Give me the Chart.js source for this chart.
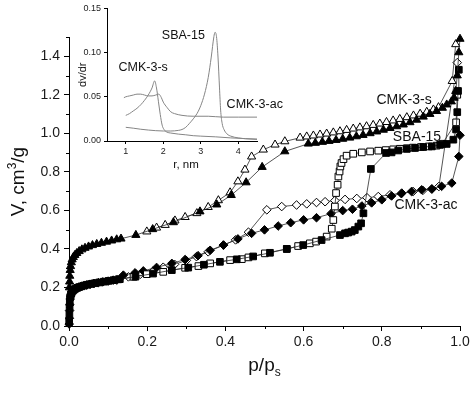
<!DOCTYPE html>
<html><head><meta charset="utf-8">
<script src="https://cdn.jsdelivr.net/npm/chart.js@4.4.0/dist/chart.umd.min.js"></script>
<style>
html,body{margin:0;padding:0;background:#fff;}
#wrap{position:relative;width:474px;height:394px;overflow:hidden;}
#main{position:absolute;left:0;top:0;}
#inset{position:absolute;left:60px;top:0;}
</style></head><body>
<div id="wrap"><canvas id="main" width="474" height="394"></canvas><canvas id="inset" width="240" height="180"></canvas></div>
<script>
// ---------- main isotherm data (p/ps, V cm3/g) ----------
const cmk3sAdsP = [0.001,0.0015,0.002,0.003,0.004,0.006,0.008,0.011,0.015,0.020,0.026,0.033,0.041,0.050,0.060,0.071,0.083,0.096,0.109,0.122,0.133,0.171,0.214,0.267,0.335,0.378,0.415,0.453,0.494,0.552,0.612,0.630,0.648,0.665,0.683,0.700,0.718,0.735,0.752,0.770,0.787,0.804,0.821,0.838,0.855,0.872,0.889,0.906,0.923,0.940,0.955,0.966,0.978,0.985,0.989,0.993,0.997,1.0];
const cmk3sAdsV = [0.20,0.23,0.26,0.29,0.31,0.33,0.345,0.357,0.368,0.378,0.388,0.397,0.405,0.412,0.419,0.425,0.431,0.437,0.443,0.449,0.453,0.472,0.502,0.538,0.594,0.630,0.679,0.745,0.825,0.906,0.946,0.950,0.955,0.960,0.965,0.971,0.977,0.984,0.991,1.000,1.009,1.018,1.027,1.036,1.045,1.057,1.070,1.086,1.100,1.115,1.132,1.149,1.165,1.184,1.219,1.30,1.42,1.49];
const cmk3sDesP = [0.199,0.224,0.246,0.271,0.297,0.327,0.356,0.382,0.412,0.432,0.450,0.467,0.497,0.527,0.552,0.591,0.608,0.625,0.642,0.659,0.676,0.693,0.710,0.727,0.744,0.761,0.778,0.795,0.812,0.829,0.846,0.864,0.881,0.898,0.915,0.932,0.945,0.980,0.989];
const cmk3sDesV = [0.490,0.510,0.524,0.547,0.565,0.585,0.617,0.652,0.693,0.750,0.811,0.879,0.915,0.941,0.958,0.977,0.983,0.988,0.993,0.998,1.004,1.010,1.017,1.024,1.030,1.036,1.043,1.050,1.058,1.066,1.074,1.083,1.092,1.101,1.111,1.123,1.135,1.271,1.462];

const sbaAdsP = [0.0005,0.001,0.0015,0.002,0.003,0.005,0.007,0.010,0.013,0.017,0.021,0.026,0.032,0.039,0.047,0.056,0.066,0.077,0.089,0.101,0.114,0.130,0.170,0.215,0.263,0.305,0.345,0.386,0.429,0.471,0.514,0.557,0.599,0.646,0.693,0.706,0.714,0.723,0.731,0.740,0.747,0.753,0.772,0.811,0.825,0.842,0.864,0.885,0.906,0.928,0.949,0.966,0.983,0.990,0.993,0.995,0.997];
const sbaAdsV = [0.02,0.06,0.10,0.13,0.15,0.165,0.175,0.183,0.189,0.194,0.198,0.202,0.206,0.210,0.214,0.218,0.222,0.226,0.230,0.234,0.238,0.243,0.256,0.272,0.290,0.303,0.318,0.333,0.346,0.361,0.380,0.400,0.420,0.446,0.472,0.481,0.485,0.490,0.498,0.516,0.533,0.585,0.815,0.898,0.901,0.911,0.919,0.924,0.929,0.932,0.940,0.945,0.967,1.02,1.11,1.22,1.33];
const sbaDesP = [0.126,0.165,0.199,0.241,0.297,0.331,0.361,0.412,0.442,0.459,0.501,0.557,0.586,0.616,0.632,0.659,0.672,0.676,0.680,0.683,0.687,0.689,0.692,0.694,0.697,0.702,0.710,0.727,0.749,0.770,0.791,0.810,0.829,0.846,0.864,0.880,0.900,0.920,0.940,0.955,0.990,0.993];
const sbaDesV = [0.242,0.255,0.269,0.281,0.302,0.311,0.325,0.342,0.347,0.356,0.377,0.400,0.415,0.429,0.438,0.464,0.505,0.550,0.620,0.690,0.733,0.776,0.802,0.828,0.846,0.866,0.884,0.894,0.901,0.906,0.910,0.913,0.917,0.920,0.923,0.926,0.929,0.932,0.936,0.946,1.057,1.20];

const cmk3acAdsP = [0.0005,0.001,0.0015,0.002,0.003,0.004,0.006,0.008,0.011,0.015,0.019,0.024,0.030,0.037,0.045,0.054,0.064,0.075,0.087,0.100,0.113,0.139,0.169,0.190,0.224,0.263,0.297,0.330,0.361,0.395,0.432,0.467,0.500,0.535,0.567,0.600,0.633,0.670,0.700,0.725,0.749,0.774,0.800,0.825,0.850,0.876,0.902,0.928,0.953,0.979,0.997,1.000];
const cmk3acAdsV = [0.01,0.04,0.08,0.11,0.14,0.155,0.168,0.177,0.185,0.191,0.196,0.200,0.205,0.209,0.213,0.217,0.221,0.225,0.229,0.233,0.238,0.264,0.276,0.286,0.304,0.325,0.345,0.365,0.393,0.420,0.452,0.481,0.499,0.519,0.536,0.551,0.562,0.583,0.599,0.606,0.623,0.639,0.655,0.675,0.687,0.698,0.707,0.712,0.725,0.742,0.880,0.99];
const cmk3acDesP = [0.122,0.152,0.182,0.215,0.241,0.270,0.300,0.326,0.356,0.395,0.426,0.459,0.506,0.544,0.582,0.608,0.633,0.655,0.680,0.706,0.736,0.762,0.791,0.821,0.851,0.880,0.905,0.928,0.946,0.993];
const cmk3acDesV = [0.238,0.255,0.268,0.285,0.305,0.320,0.340,0.360,0.385,0.420,0.447,0.487,0.603,0.620,0.628,0.634,0.641,0.645,0.651,0.657,0.662,0.666,0.672,0.681,0.690,0.698,0.704,0.710,0.724,1.367];

const xTicks = [0,0.2,0.4,0.6,0.8,1.0];
const xMinor = [0.1,0.3,0.5,0.7,0.9];
const yTicks = [0,0.2,0.4,0.6,0.8,1.0,1.2,1.4];
const yMinor = [0.1,0.3,0.5,0.7,0.9,1.1,1.3,1.5];

// main-plot curve labels (position in data units)
const mainLabels = [
  {text:'CMK-3-s', x:0.857, y:1.170},
  {text:'SBA-15', x:0.890, y:0.978},
  {text:'CMK-3-ac', x:0.913, y:0.629}
];

// ---------- inset pore size distribution (r nm, dv/dr) ----------
const sbaPsdR = [1.0,1.2,1.4,1.6,1.8,2.0,2.2,2.4,2.5,2.6,2.7,2.8,2.9,3.0,3.1,3.2,3.28,3.35,3.38,3.42,3.46,3.5,3.53,3.57,3.62,3.7,3.8,4.0,4.2,4.5];
const sbaPsdV = [0.0155,0.0145,0.0133,0.0124,0.0117,0.0113,0.0113,0.012,0.013,0.0155,0.02,0.025,0.031,0.04,0.053,0.072,0.095,0.118,0.123,0.118,0.095,0.06,0.035,0.02,0.013,0.008,0.0055,0.0035,0.0025,0.0018];
const cmk3sPsdR = [1.0,1.1,1.2,1.3,1.4,1.5,1.6,1.7,1.77,1.82,1.87,1.92,1.97,2.02,2.1,2.2,2.4,2.6,2.8,3.0,3.4,3.8,4.2,4.5];
const cmk3sPsdV = [0.029,0.031,0.034,0.037,0.041,0.046,0.052,0.060,0.068,0.060,0.045,0.030,0.018,0.013,0.010,0.009,0.0078,0.007,0.006,0.0055,0.0047,0.0035,0.0027,0.0022];
const cmk3acPsdR = [0.95,1.0,1.1,1.2,1.3,1.4,1.5,1.6,1.7,1.8,1.88,1.95,2.0,2.1,2.2,2.3,2.5,2.8,3.2,3.6,4.0,4.5];
const cmk3acPsdV = [0.049,0.050,0.051,0.052,0.053,0.053,0.052,0.051,0.051,0.052,0.053,0.049,0.044,0.038,0.033,0.031,0.029,0.028,0.028,0.027,0.027,0.027];
const insetXTicks = [1,2,3,4];
const insetYTicks = [0,0.05,0.10,0.15];
const insetLabels = [
  {text:'SBA-15', x:2.536, y:0.1189},
  {text:'CMK-3-s', x:1.464, y:0.0833},
  {text:'CMK-3-ac', x:4.44, y:0.0411}
];

const FONT = "'Liberation Sans', Arial, Helvetica, sans-serif";
function pts(xs, ys){ return xs.map((x,i)=>({x:x, y:ys[i]})); }
function series(label, xs, ys, style, filled, radius){
  return {label, data: pts(xs,ys), showLine:true, borderColor:'#2a2a2a', borderWidth:0.8,
    pointStyle: style, pointRadius: radius, pointHoverRadius: radius,
    pointBackgroundColor: filled ? '#000' : '#fff',
    pointBorderColor:'#000', pointBorderWidth:1, clip:false, tension:0};
}

const minorTicks = {
  id:'minorTicks',
  afterDraw(chart, args, opts){
    const ctx = chart.ctx, ca = chart.chartArea;
    const xs = chart.scales.x, ys = chart.scales.y;
    ctx.save(); ctx.strokeStyle = '#000'; ctx.lineWidth = 1;
    (opts.x||[]).forEach(v=>{
      const px = Math.round(xs.getPixelForValue(v)) + 0.5;
      ctx.beginPath(); ctx.moveTo(px, ca.bottom); ctx.lineTo(px, ca.bottom + opts.len); ctx.stroke();
    });
    (opts.y||[]).forEach(v=>{
      const py = Math.round(ys.getPixelForValue(v)) + 0.5;
      ctx.beginPath(); ctx.moveTo(ca.left, py); ctx.lineTo(ca.left - opts.len, py); ctx.stroke();
    });
    ctx.restore();
  }
};

const texts = {
  id:'texts',
  afterDraw(chart, args, opts){
    const ctx = chart.ctx, ca = chart.chartArea;
    const xs = chart.scales.x, ys = chart.scales.y;
    ctx.save();
    ctx.fillStyle = '#111';
    ctx.textBaseline = 'middle';
    ctx.textAlign = 'center';
    ctx.font = opts.labelSize + 'px ' + FONT;
    (opts.labels||[]).forEach(l=>{
      ctx.fillText(l.text, xs.getPixelForValue(l.x), ys.getPixelForValue(l.y));
    });
    if (opts.draw) opts.draw(ctx, ca);
    ctx.restore();
  }
};

function drawRuns(ctx, runs, cx, cy){
  let total = 0;
  runs.forEach(r=>{ ctx.font = r.size + 'px ' + FONT; r.w = ctx.measureText(r.t).width; total += r.w; });
  let x = cx - total/2;
  ctx.textAlign = 'left'; ctx.textBaseline = 'alphabetic';
  runs.forEach(r=>{ ctx.font = r.size + 'px ' + FONT; ctx.fillText(r.t, x, cy + r.dy); x += r.w; });
}

new Chart(document.getElementById('main'), {
  type:'scatter',
  data:{ datasets:[
    series('CMK-3-s ads', cmk3sAdsP, cmk3sAdsV, 'triangle', true, 4.7),
    series('CMK-3-s des', cmk3sDesP, cmk3sDesV, 'triangle', false, 4.7),
    series('SBA-15 ads', sbaAdsP, sbaAdsV, 'rect', true, 4.7),
    series('SBA-15 des', sbaDesP, sbaDesV, 'rect', false, 4.7),
    series('CMK-3-ac ads', cmk3acAdsP, cmk3acAdsV, 'rectRot', true, 4.3),
    series('CMK-3-ac des', cmk3acDesP, cmk3acDesV, 'rectRot', false, 4.3)
  ]},
  options:{
    responsive:false, animation:false, devicePixelRatio:1,
    events:[],
    layout:{padding:{top:37, right:14, left:0, bottom:0}},
    plugins:{
      legend:{display:false}, tooltip:{enabled:false},
      minorTicks:{x:xMinor, y:yMinor, len:3},
      texts:{labels:mainLabels, labelSize:14, draw(ctx, ca){
        ctx.fillStyle = '#111';
        drawRuns(ctx, [{t:'p/p', size:19, dy:0},{t:'s', size:12, dy:5}], (ca.left+ca.right)/2, ca.bottom + 45);
        ctx.save();
        ctx.translate(24, (ca.top+ca.bottom)/2);
        ctx.rotate(-Math.PI/2);
        drawRuns(ctx, [{t:'V, cm', size:19, dy:0},{t:'3', size:12, dy:-8},{t:'/g', size:19, dy:0}], 0, 0);
        ctx.restore();
      }}
    },
    scales:{
      x:{type:'linear', min:0, max:1,
        afterBuildTicks(s){ s.ticks = xTicks.map(v=>({value:v})); },
        afterFit(s){ s.height = 68; },
        ticks:{callback:v=>Number(v).toFixed(1), font:{family:FONT, size:14}, color:'#1a1a1a', padding:3, maxRotation:0},
        grid:{drawOnChartArea:false, drawTicks:true, tickLength:5, color:'#000'},
        border:{display:true, color:'#000', width:1}
      },
      y:{type:'linear', min:0, max:1.5,
        afterBuildTicks(s){ s.ticks = yTicks.map(v=>({value:v})); },
        afterFit(s){ s.width = 69; },
        ticks:{callback:v=>Number(v).toFixed(1), font:{family:FONT, size:14}, color:'#1a1a1a', padding:4},
        grid:{drawOnChartArea:false, drawTicks:true, tickLength:5, color:'#000'},
        border:{display:true, color:'#000', width:1}
      }
    }
  },
  plugins:[minorTicks, texts]
});

function psd(label, xs, ys){
  return {label, data: pts(xs,ys), showLine:true, borderColor:'#858585', borderWidth:1,
    pointRadius:0, cubicInterpolationMode:'monotone', clip:false};
}

new Chart(document.getElementById('inset'), {
  type:'scatter',
  data:{ datasets:[
    psd('SBA-15', sbaPsdR, sbaPsdV),
    psd('CMK-3-s', cmk3sPsdR, cmk3sPsdV),
    psd('CMK-3-ac', cmk3acPsdR, cmk3acPsdV)
  ]},
  options:{
    responsive:false, animation:false, devicePixelRatio:1,
    events:[],
    layout:{padding:{top:5, right:43, left:0, bottom:0}},
    plugins:{
      legend:{display:false}, tooltip:{enabled:false},
      minorTicks:{x:[], y:[], len:2},
      texts:{labels:insetLabels, labelSize:12.5, draw(ctx, ca){
        ctx.fillStyle = '#111';
        drawRuns(ctx, [{t:'r, nm', size:11.5, dy:0}], (ca.left+ca.right)/2 + 4, ca.bottom + 27);
        ctx.save();
        ctx.translate(ca.left - 21, (ca.top+ca.bottom)/2);
        ctx.rotate(-Math.PI/2);
        drawRuns(ctx, [{t:'dv/dr', size:11, dy:0}], 0, 0);
        ctx.restore();
      }}
    },
    scales:{
      x:{type:'linear', min:0.5, max:4.5,
        afterBuildTicks(s){ s.ticks = insetXTicks.map(v=>({value:v})); },
        afterFit(s){ s.height = 39; },
        ticks:{callback:v=>String(v), font:{family:FONT, size:9}, color:'#222', padding:2, maxRotation:0},
        grid:{drawOnChartArea:false, drawTicks:true, tickLength:3, color:'#000'},
        border:{display:true, color:'#000', width:1}
      },
      y:{type:'linear', min:0, max:0.15,
        afterBuildTicks(s){ s.ticks = insetYTicks.map(v=>({value:v})); },
        afterFit(s){ s.width = 47; },
        ticks:{callback:v=>Number(v).toFixed(2), font:{family:FONT, size:9}, color:'#222', padding:3},
        grid:{drawOnChartArea:false, drawTicks:true, tickLength:3, color:'#000'},
        border:{display:true, color:'#000', width:1}
      }
    }
  },
  plugins:[minorTicks, texts]
});
</script>
</body></html>
